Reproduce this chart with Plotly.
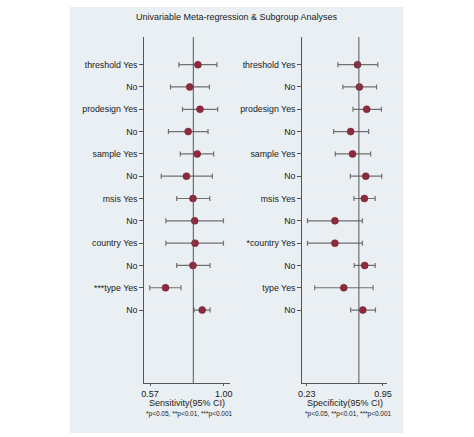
import plotly.graph_objects as go

W, H = 474, 437

row_labels = ["threshold Yes", "No", "prodesign Yes", "No", "sample Yes", "No",
              "msis Yes", "No", "country Yes", "No", "***type Yes", "No"]
row_labels_spec = ["threshold Yes", "No", "prodesign Yes", "No", "sample Yes", "No",
                   "msis Yes", "No", "*country Yes", "No", "type Yes", "No"]

sens = [0.849, 0.801, 0.861, 0.792, 0.845, 0.782, 0.820, 0.830, 0.832, 0.820, 0.660, 0.874]
sens_lo = [0.738, 0.689, 0.759, 0.677, 0.746, 0.635, 0.725, 0.662, 0.662, 0.725, 0.568, 0.826]
sens_hi = [0.960, 0.916, 0.964, 0.908, 0.941, 0.933, 0.918, 0.998, 0.998, 0.920, 0.750, 0.920]
sens_ref = 0.822

spec = [0.709, 0.727, 0.796, 0.644, 0.662, 0.787, 0.774, 0.495, 0.495, 0.777, 0.579, 0.759]
spec_lo = [0.523, 0.570, 0.666, 0.483, 0.499, 0.641, 0.675, 0.236, 0.236, 0.678, 0.304, 0.644]
spec_hi = [0.901, 0.889, 0.935, 0.814, 0.833, 0.938, 0.876, 0.755, 0.755, 0.876, 0.857, 0.879]
spec_ref = 0.722

sens_ticks = [0.57, 1.00]
spec_ticks = [0.23, 0.95]

FONT = "Liberation Sans, Arial, Helvetica, sans-serif"
MARK = "#8e2a3b"
ERR = "#707070"
TXT = "#1a1a1a"

ypos = list(range(len(row_labels)))

def px_x(p):
    return p / W

def px_y(p):
    return 1 - p / H

fig = go.Figure()

def add_panel(vals, lo, hi, xa, ya):
    fig.add_trace(go.Scatter(
        x=vals, y=ypos, mode="markers",
        xaxis=xa, yaxis=ya,
        marker=dict(color=MARK, size=7, line=dict(color="#6e1f2c", width=0.5)),
        error_x=dict(type="data", symmetric=False,
                     array=[h - v for h, v in zip(hi, vals)],
                     arrayminus=[v - l for v, l in zip(vals, lo)],
                     color=ERR, thickness=1.2, width=2.5),
        showlegend=False, hoverinfo="skip",
    ))

add_panel(sens, sens_lo, sens_hi, "x", "y")
add_panel(spec, spec_lo, spec_hi, "x2", "y2")

ydom = [px_y(383), px_y(37)]
yrange = [14.27, -1.24]

common_y = dict(range=yrange, domain=ydom, tickmode="array", tickvals=ypos,
                ticks="outside", ticklen=4, tickcolor="#555", showline=True,
                linecolor="#555", linewidth=1, showgrid=True, gridcolor="#efefef",
                gridwidth=1, zeroline=False,
                tickfont=dict(family=FONT, size=8.8, color=TXT))
common_x = dict(tickmode="array", ticks="outside", ticklen=2, tickcolor="#555",
                showline=True, linecolor="#555", linewidth=1, showgrid=False,
                zeroline=False,
                tickfont=dict(family=FONT, size=9, color=TXT))

fig.update_layout(
    width=W, height=H,
    margin=dict(l=0, r=0, t=0, b=0),
    paper_bgcolor="white",
    plot_bgcolor="white",
    xaxis=dict(common_x, domain=[px_x(143), px_x(230)], range=[0.536, 1.034],
               tickvals=sens_ticks, ticktext=[f"{t:.2f}" for t in sens_ticks], anchor="y"),
    yaxis=dict(common_y, ticktext=row_labels, anchor="x"),
    xaxis2=dict(common_x, domain=[px_x(304), px_x(390.3)], range=[0.186, 0.987],
                tickvals=spec_ticks, ticktext=[f"{t:.2f}" for t in spec_ticks], anchor="y2"),
    yaxis2=dict(common_y, ticktext=row_labels_spec, anchor="x2"),
    shapes=[
        dict(type="rect", xref="paper", yref="paper", x0=px_x(67), x1=px_x(407),
             y0=px_y(433), y1=px_y(7), fillcolor="#e9eff3", line=dict(width=0), layer="below"),
        dict(type="line", xref="x", yref="y domain", x0=sens_ref, x1=sens_ref, y0=0, y1=1,
             line=dict(color="#555", width=1)),
        dict(type="line", xref="x2", yref="y2 domain", x0=spec_ref, x1=spec_ref, y0=0, y1=1,
             line=dict(color="#555", width=1)),
    ],
    annotations=[
        dict(text="Univariable Meta-regression & Subgroup Analyses", xref="paper", yref="paper",
             x=px_x(237), y=px_y(17), showarrow=False, xanchor="center", yanchor="middle",
             font=dict(family=FONT, size=9, color=TXT)),
        dict(text="Sensitivity(95% CI)", xref="paper", yref="paper",
             x=px_x(186.5), y=px_y(402.5), showarrow=False, xanchor="center", yanchor="middle",
             font=dict(family=FONT, size=9, color=TXT)),
        dict(text="Specificity(95% CI)", xref="paper", yref="paper",
             x=px_x(347.3), y=px_y(402.5), showarrow=False, xanchor="center", yanchor="middle",
             font=dict(family=FONT, size=9, color=TXT)),
        dict(text="*p<0.05, **p<0.01, ***p<0.001", xref="paper", yref="paper",
             x=px_x(189.5), y=px_y(413.5), showarrow=False, xanchor="center", yanchor="middle",
             font=dict(family=FONT, size=6.5, color=TXT)),
        dict(text="*p<0.05, **p<0.01, ***p<0.001", xref="paper", yref="paper",
             x=px_x(351), y=px_y(413.5), showarrow=False, xanchor="center", yanchor="middle",
             font=dict(family=FONT, size=6.5, color=TXT)),
    ],
)

fig.write_html("out.html")
